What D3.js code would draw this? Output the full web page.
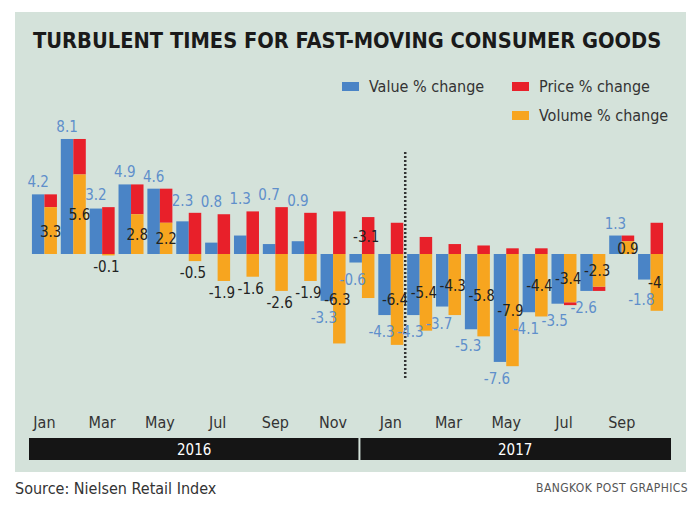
<!DOCTYPE html>
<html>
<head>
<meta charset="utf-8">
<script src="https://cdn.jsdelivr.net/npm/d3@7"></script>
<style>
  html, body { margin: 0; padding: 0; background: #fff; }
  svg { display: block; }
  text { font-family: "DejaVu Sans Condensed", "DejaVu Sans", sans-serif; font-stretch: condensed; }
</style>
</head>
<body>
<svg id="chart" width="700" height="507"></svg>
<script>
//
// Data
//
var months = ['Jan', 'Feb', 'Mar', 'Apr', 'May', 'Jun', 'Jul', 'Aug', 'Sep', 'Oct', 'Nov', 'Dec',
  'Jan', 'Feb', 'Mar', 'Apr', 'May', 'Jun', 'Jul', 'Aug', 'Sep', 'Oct']
var years = ['2016', '2017']
var valueChange = [4.2, 8.1, 3.2, 4.9, 4.6, 2.3, 0.8, 1.3, 0.7, 0.9, -3.3, -0.6,
  -4.3, -4.3, -3.7, -5.3, -7.6, -4.1, -3.5, -2.6, 1.3, -1.8]
var volumeChange = [3.3, 5.6, -0.1, 2.8, 2.2, -0.5, -1.9, -1.6, -2.6, -1.9, -6.3, -3.1,
  -6.4, -5.4, -4.3, -5.8, -7.9, -4.4, -3.4, -2.3, 0.9, -4]
var priceChange = [0.9, 2.5, 3.3, 2.1, 2.4, 2.9, 2.8, 3.0, 3.3, 2.9, 3.0, 2.6,
  2.2, 1.2, 0.7, 0.6, 0.4, 0.4, -0.2, -0.3, 0.4, 2.2]

//
// Configuration
//
var colorPanel = '#d4e2da'
var colorValue = '#4a84c6'
var colorPrice = '#e8202a'
var colorVolume = '#f7a51f'
var colorValueText = '#5f8fcb'
var colorText = '#222'
var labelSize = 15

var svg = d3.select('#chart')

var rows = months.map(function (m, i) {
  return { i: i, value: valueChange[i], volume: volumeChange[i], price: priceChange[i] }
})

var x = d3.scaleBand()
  .domain(d3.range(months.length))
  .range([30, 665])
  .paddingInner(0.134)
  .paddingOuter(0.067)
var xSub = d3.scaleBand().domain(['value', 'mix']).range([0, x.bandwidth()])
var y = d3.scaleLinear().domain([-10, 10]).range([396, 112])

var stack = d3.stack().keys(['volume', 'price']).offset(d3.stackOffsetDiverging)
var series = stack(rows)

// panel + title
svg.append('rect').attr('x', 15).attr('y', 12).attr('width', 671).attr('height', 460)
  .attr('fill', colorPanel)
var title = svg.append('text').attr('x', 33).attr('y', 48)
  .attr('font-size', 26).attr('font-weight', 'bold').attr('fill', '#1a1a1a')
  .text('TURBULENT TIMES FOR FAST-MOVING CONSUMER GOODS')
// fit the title to the panel width by font size
var tw = title.node().getComputedTextLength()
title.attr('font-size', Math.min(28, 26 * 629 / tw))

// legend
var legend = [
  { name: 'Value % change', color: colorValue, x: 342, y: 82 },
  { name: 'Price % change', color: colorPrice, x: 512, y: 82 },
  { name: 'Volume % change', color: colorVolume, x: 512, y: 111 },
]
var lg = svg.append('g').selectAll('g').data(legend).join('g')
  .attr('transform', function (d) { return 'translate(' + d.x + ',' + d.y + ')' })
lg.append('rect').attr('width', 17).attr('height', 9).attr('fill', function (d) { return d.color })
lg.append('text').attr('x', 27).attr('y', 10).attr('font-size', 16).attr('fill', '#333')
  .text(function (d) { return d.name })

// value bars
svg.append('g').selectAll('rect').data(rows).join('rect')
  .attr('x', function (d) { return x(d.i) + xSub('value') })
  .attr('width', xSub.bandwidth())
  .attr('y', function (d) { return y(Math.max(0, d.value)) })
  .attr('height', function (d) { return Math.abs(y(d.value) - y(0)) })
  .attr('fill', colorValue)

// price + volume stacked
var colors = { volume: colorVolume, price: colorPrice }
svg.append('g').selectAll('g').data(series.slice().reverse()).join('g')
  .attr('fill', function (s) { return colors[s.key] })
  .selectAll('rect').data(function (s) { return s }).join('rect')
  .attr('x', function (d) { return x(d.data.i) + xSub('mix') })
  .attr('width', xSub.bandwidth())
  .attr('y', function (d) { return y(Math.max(d[0], d[1])) })
  .attr('height', function (d) { return Math.abs(y(d[0]) - y(d[1])) })

// dotted divider between Jan and Feb 2017
var divX = x(13) - (x.step() - x.bandwidth()) / 2
svg.append('line').attr('x1', divX).attr('x2', divX).attr('y1', 152).attr('y2', 378)
  .attr('stroke', '#333').attr('stroke-width', 2.5).attr('stroke-dasharray', '2,2')

// label positions
rows.forEach(function (d) {
  if (d.value >= 0) d.valY = y(Math.max(d.value, d.volume + d.price, d.price)) - 7
  else d.valY = y(d.value) + 22
  if (d.volume < 0 && d.volume > -3 && d.i < 12) d.volY = y(d.volume) + 17
  else d.volY = y(d.volume / 2) + 6
  if (d.value < 0) {
    var gap = d.valY - d.volY
    // nearly on top of each other: lift the volume label above zero
    if (Math.abs(gap) < 8) d.volY = y(0) - 12
    // close: push the value label further down
    else if (gap < 17) d.valY = d.volY + 17
  }
})

// value labels
svg.append('g').selectAll('text').data(rows).join('text')
  .attr('x', function (d) { return x(d.i) + xSub('value') + xSub.bandwidth() / 2 - (d.value < 0 ? 3 : 0) })
  .attr('y', function (d) { return d.valY })
  .attr('text-anchor', 'middle').attr('font-size', labelSize).attr('fill', colorValueText)
  .text(function (d) { return d.value })

// volume labels
svg.append('g').selectAll('text').data(rows).join('text')
  .attr('x', function (d) { return x(d.i) + xSub('mix') + xSub.bandwidth() / 2 - (d.volume < 0 ? 2 : 0) })
  .attr('y', function (d) { return d.volY })
  .attr('text-anchor', 'middle').attr('font-size', labelSize).attr('fill', colorText)
  .text(function (d) { return d.volume })

// month ticks
var xAxis = d3.axisBottom(x)
  .tickValues(d3.range(0, months.length, 2))
  .tickFormat(function (i) { return months[i] })
  .tickSize(0)
var ax = svg.append('g').attr('transform', 'translate(0,414)').call(xAxis)
ax.select('.domain').remove()
ax.selectAll('text').attr('font-size', 16).attr('fill', '#333')
  .style('font-family', '"DejaVu Sans Condensed", "DejaVu Sans", sans-serif')
  .style('font-stretch', 'condensed')

// year bar
var yearEdges = [29, x(11) + 10, 671]
years.forEach(function (yr, k) {
  svg.append('rect').attr('x', yearEdges[k] + (k ? 1 : 0)).attr('y', 438)
    .attr('width', yearEdges[k + 1] - yearEdges[k] - 1).attr('height', 22).attr('fill', '#151515')
  svg.append('text').attr('x', (yearEdges[k] + yearEdges[k + 1]) / 2).attr('y', 455)
    .attr('text-anchor', 'middle').attr('font-size', 15).attr('fill', '#fff').text(yr)
})

// footer
svg.append('text').attr('x', 15).attr('y', 494).attr('font-size', 16).attr('fill', '#333')
  .text('Source: Nielsen Retail Index')
svg.append('text').attr('x', 688).attr('y', 492).attr('text-anchor', 'end')
  .attr('font-size', 12).attr('letter-spacing', 0.4).attr('fill', '#555')
  .text('BANGKOK POST GRAPHICS')
</script>
</body>
</html>
